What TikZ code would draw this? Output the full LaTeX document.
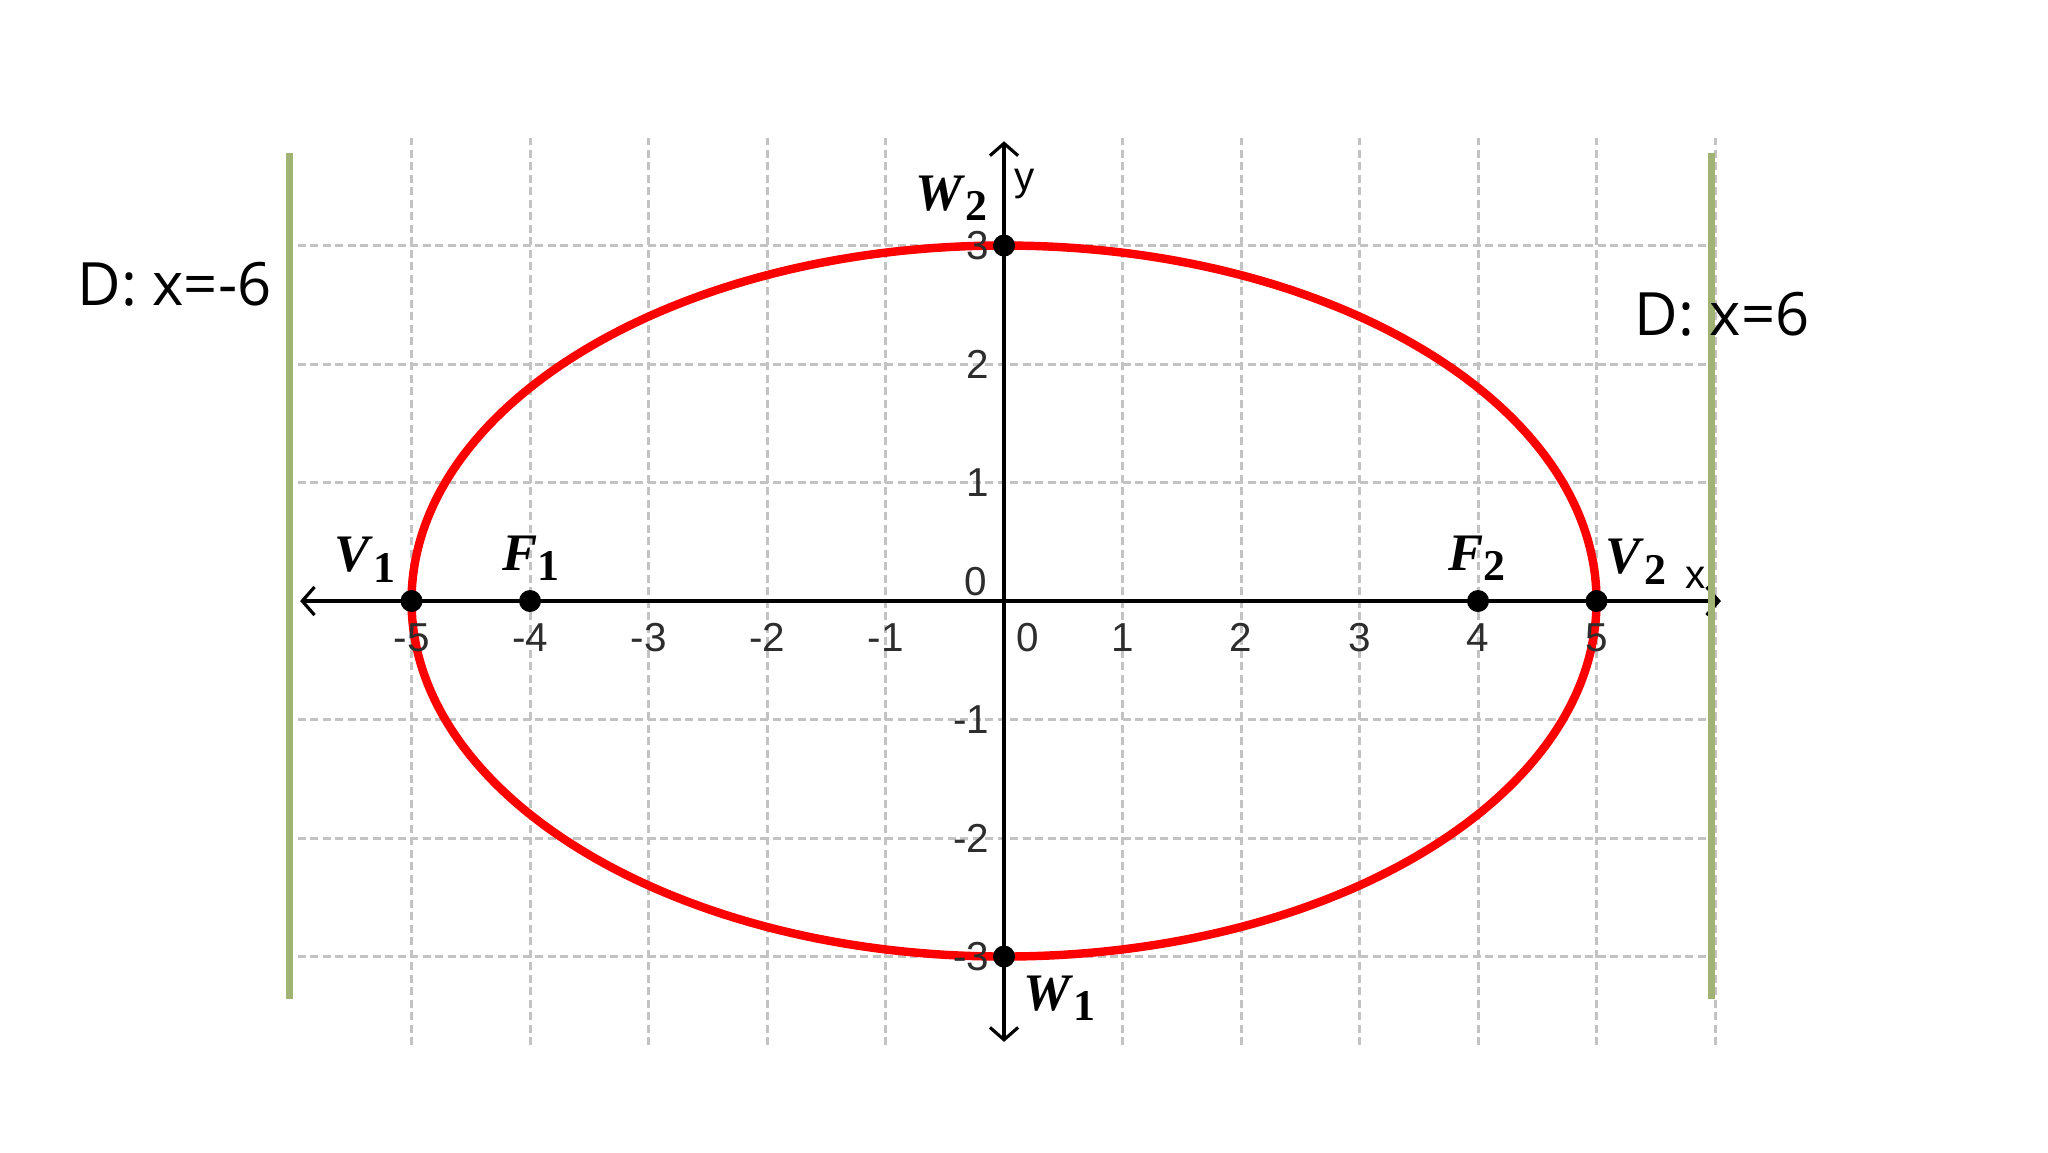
\documentclass[tikz,border=0pt]{standalone}
\usepackage{fontspec}
\setmainfont{Liberation Sans}
\newfontfamily\dfont{Open Sans}
\newfontfamily\lfont{Liberation Serif}
\usetikzlibrary{arrows.meta}
\definecolor{dgreen}{RGB}{160,178,116}
\definecolor{gridc}{RGB}{195,195,195}
\definecolor{tickc}{RGB}{45,45,45}
\tikzset{
  gridline/.style={gridc,line width=0.85pt,dash pattern=on 0.08cm off 0.045cm},
  axisline/.style={black,line width=0.9pt,{Straight Barb[length=3.5pt,width=8pt]}-{Straight Barb[length=3.5pt,width=8pt]}},
  curve/.style={red,line width=2.4pt},
  dot/.style={circle,fill=black,inner sep=0pt,minimum size=0.22cm},
  directrix/.style={dgreen,line width=2pt},
  ptlabel/.style={inner sep=0pt,font=\lfont\bfseries\itshape\fontsize{15}{15}\selectfont},
  ticklabel/.style={inner sep=0pt,text=tickc,font=\fontsize{11.5}{11.5}\selectfont},
  axlabel/.style={inner sep=0pt,font=\fontsize{11.5}{11.5}\selectfont},
  dlabel/.style={inner sep=0pt,font=\dfont\fontsize{17}{17}\selectfont}
}
\newcommand{\sbs}[1]{\/\raisebox{-3pt}{\upshape\fontsize{12.5}{12.5}\selectfont #1}}
\begin{document}
\begin{tikzpicture}[x=1.185cm,y=1.185cm]
\useasboundingbox[fill=white] (-8.473,-4.650) rectangle (8.810,5.072);
% grid
\foreach \gx in {-5,-4,-3,-2,-1,1,2,3,4,5,6}
  \draw[gridline] (\gx,-3.75) -- (\gx,3.91);
\foreach \gy in {-3,-2,-1,1,2,3}
  \draw[gridline] (-5.96,\gy) -- (6.02,\gy);
% axes
\coordinate (xl) at (-5.94,0);
\coordinate (xr) at (6.05,0);
\coordinate (yb) at (0,-3.72);
\coordinate (yt) at (0,3.88);
\draw[axisline] (xl) -- (xr);
\draw[axisline] (yb) -- (yt);
% ellipse
\draw[curve] (0,0) ellipse [x radius=5, y radius=3];
% points
\node[dot] (V1) at (-5,0) {};
\node[dot] (V2) at (5,0) {};
\node[dot] (F1) at (-4,0) {};
\node[dot] (F2) at (4,0) {};
\node[dot] (W1) at (0,-3) {};
\node[dot] (W2) at (0,3) {};
% directrices
\coordinate (dlt) at (-6.03,3.78);
\coordinate (dlb) at (-6.03,-3.36);
\coordinate (drt) at (5.97,3.78);
\coordinate (drb) at (5.97,-3.36);
\draw[directrix] (dlt) -- (dlb);
\draw[directrix] (drt) -- (drb);
% tick labels
\foreach \t in {-5,-4,-3,-2,-1,1,2,3,4,5}
  \node[ticklabel] (tx\t) at (\t,-0.31) {\t};
\node[ticklabel] (tx0) at (0.2,-0.31) {0};
\node[ticklabel] (t0) at (-0.24,0.16) {0};
\foreach \t in {-3,-2,-1,1,2,3}
  \node[ticklabel,anchor=east] (ty\t) at (-0.12,\t) {\t};
% axis labels
\node[axlabel] (xlab) at (5.84,0.20) {x};
\node[axlabel] (ylab) at (0.17,3.52) {y};
% point labels
\node[ptlabel] (lV1) at (-5.39,0.35) {V\sbs{1}};
\node[ptlabel] (lF1) at (-3.99,0.36) {F\sbs{1}};
\node[ptlabel] (lF2) at (3.99,0.36) {F\sbs{2}};
\node[ptlabel] (lV2) at (5.33,0.33) {V\sbs{2}};
\node[ptlabel] (lW2) at (-0.44,3.40) {W\sbs{2}};
\node[ptlabel] (lW1) at (0.47,-3.35) {W\sbs{1}};
% directrix labels
\node[dlabel] (dL) at (-7.00,2.67) {D: x=-6};
\node[dlabel] (dR) at (6.06,2.42) {D: x=6};
\end{tikzpicture}
\end{document}
